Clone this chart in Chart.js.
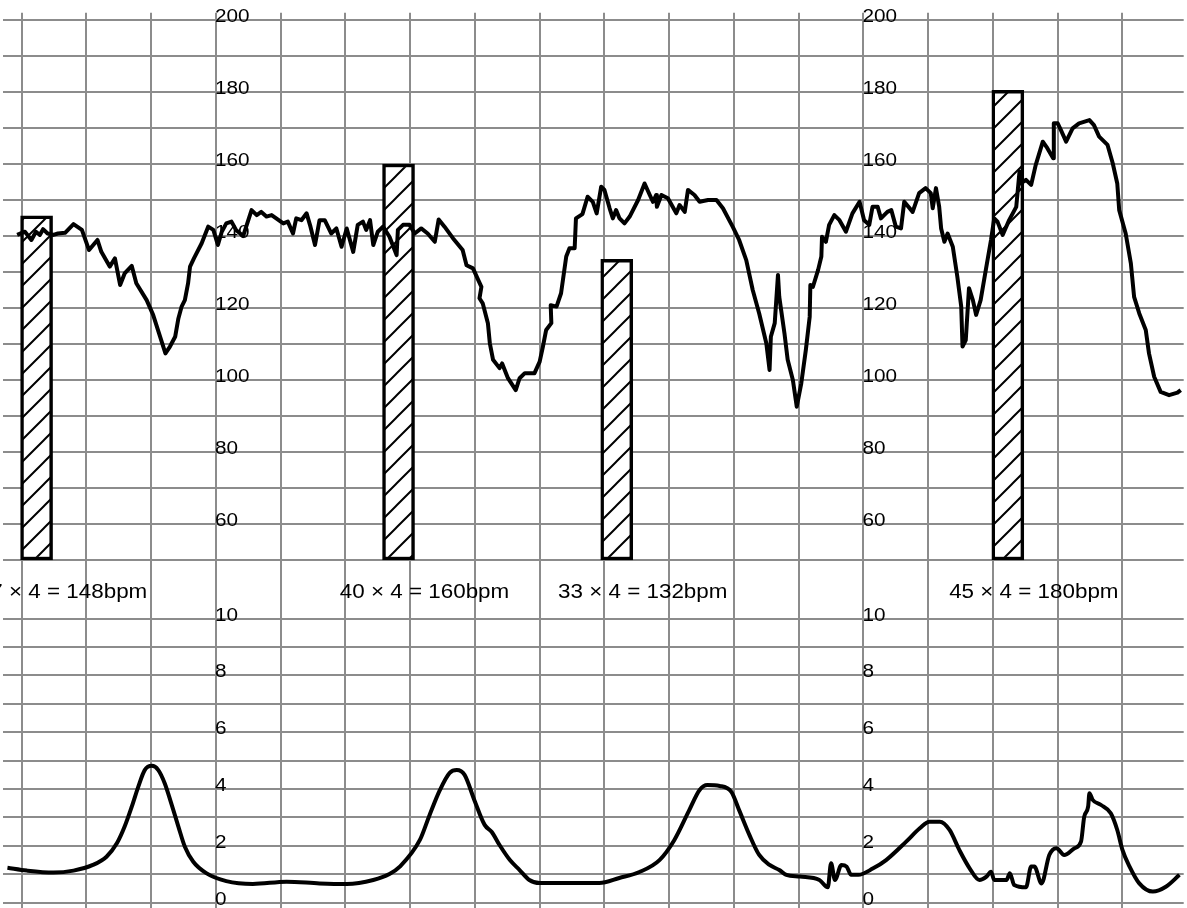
<!DOCTYPE html>
<html>
<head>
<meta charset="utf-8">
<script src="https://cdn.jsdelivr.net/npm/chart.js@4.4.1/dist/chart.umd.min.js"></script>
<style>
  html, body { margin: 0; padding: 0; background: #fff; }
  canvas { display: block; }
</style>
</head>
<body>
<canvas id="ctg" width="1187" height="908"></canvas>
<script>
// time is counted in grid squares (one vertical line per unit)
// fetal heart rate trace, bpm
const fhrTime = [-0.07, 0.05, 0.15, 0.22, 0.28, 0.33, 0.40, 0.49, 0.56, 0.67, 0.80, 0.93, 1.04, 1.17, 1.23, 1.36, 1.44, 1.52, 1.59, 1.70,
  1.77, 1.93, 2.03, 2.12, 2.22, 2.29, 2.37, 2.42, 2.47, 2.52, 2.57, 2.60, 2.66, 2.78, 2.88, 2.96, 3.03, 3.09, 3.16, 3.24,
  3.31, 3.42, 3.55, 3.63, 3.70, 3.78, 3.86, 4.04, 4.11, 4.19, 4.24, 4.32, 4.40, 4.46, 4.53, 4.60, 4.68, 4.78, 4.86, 4.94,
  5.02, 5.12, 5.19, 5.27, 5.32, 5.38, 5.43, 5.50, 5.58, 5.68, 5.79, 5.81, 5.89, 5.99, 6.07, 6.17, 6.27, 6.38, 6.44, 6.53,
  6.66, 6.81, 6.87, 6.97, 7.05, 7.10, 7.07, 7.12, 7.20, 7.23, 7.28, 7.38, 7.42, 7.51, 7.63, 7.69, 7.77, 7.92, 8.00, 8.05,
  8.10, 8.18, 8.17, 8.26, 8.33, 8.41, 8.46, 8.54, 8.56, 8.66, 8.74, 8.82, 8.88, 8.95, 9.00, 9.08, 9.13, 9.18, 9.23, 9.31,
  9.39, 9.52, 9.62, 9.70, 9.75, 9.80, 9.81, 9.88, 9.98, 10.11, 10.16, 10.24, 10.29, 10.39, 10.47, 10.60, 10.73, 10.83, 10.98, 11.08,
  11.19, 11.29, 11.39, 11.50, 11.55, 11.57, 11.63, 11.68, 11.70, 11.78, 11.83, 11.91, 11.97, 12.04, 12.11, 12.17, 12.18, 12.22, 12.30, 12.35,
  12.36, 12.42, 12.47, 12.55, 12.63, 12.73, 12.83, 12.94, 13.01, 13.09, 13.14, 13.22, 13.27, 13.37, 13.43, 13.50, 13.58, 13.63, 13.76, 13.86,
  13.96, 14.04, 14.07, 14.12, 14.17, 14.20, 14.25, 14.30, 14.38, 14.45, 14.51, 14.53, 14.58, 14.63, 14.69, 14.74, 14.81, 14.89, 14.97, 15.02,
  15.07, 15.15, 15.25, 15.36, 15.41, 15.43, 15.51, 15.59, 15.66, 15.77, 15.84, 15.93, 15.94, 16.00, 16.05, 16.13, 16.23, 16.33, 16.49, 16.56,
  16.64, 16.77, 16.85, 16.92, 16.95, 17.05, 17.13, 17.18, 17.26, 17.36, 17.41, 17.49, 17.59, 17.72, 17.85, 17.90];
const fhrBpm = [140.3, 141.2, 138.9, 141.2, 140.3, 141.9, 140.7, 140.3, 140.7, 140.9, 143.3, 141.7, 136.1, 138.9, 135.6, 131.5, 133.8, 126.4, 129.6, 131.7,
  126.9, 122.2, 118.1, 113.0, 107.4, 109.3, 112.0, 117.1, 120.4, 122.2, 126.9, 131.5, 133.8, 138.0, 142.6, 141.7, 137.5, 141.2, 143.5, 144.0,
  141.7, 140.0, 147.2, 145.8, 146.7, 145.4, 145.8, 143.5, 144.0, 140.7, 144.9, 144.4, 146.3, 142.6, 137.5, 144.4, 144.4, 140.7, 142.1, 137.0,
  142.1, 135.6, 143.1, 144.0, 141.7, 144.4, 137.5, 141.2, 142.6, 139.8, 134.7, 141.7, 143.1, 143.1, 140.7, 142.1, 140.7, 138.4, 144.6, 142.6,
  139.4, 136.1, 131.9, 131.0, 127.8, 125.9, 122.7, 121.3, 115.8, 110.2, 105.6, 103.3, 104.6, 100.5, 97.2, 100.5, 101.9, 101.9, 105.1, 109.3,
  113.9, 115.8, 120.8, 120.4, 124.1, 134.3, 136.6, 136.6, 144.9, 146.1, 150.9, 149.5, 146.3, 153.7, 152.8, 147.7, 144.9, 147.2, 145.0, 143.5,
  145.4, 150.0, 154.6, 151.4, 149.5, 151.4, 148.1, 151.4, 150.5, 146.3, 148.6, 146.7, 152.8, 151.4, 149.5, 150.0, 150.0, 147.7, 142.6, 138.9,
  133.3, 125.0, 118.5, 110.2, 102.8, 112.0, 115.8, 129.2, 123.1, 113.0, 105.6, 100.0, 92.6, 99.1, 108.3, 117.6, 126.4, 125.9, 130.6, 134.3,
  139.8, 138.4, 143.1, 145.8, 144.4, 141.2, 146.3, 149.5, 144.4, 143.1, 148.1, 148.1, 144.9, 146.7, 147.2, 142.6, 142.1, 149.5, 146.7, 151.9,
  153.3, 151.9, 147.7, 153.3, 148.1, 142.1, 138.4, 140.7, 137.0, 128.7, 120.4, 109.3, 111.1, 125.5, 122.2, 118.1, 122.2, 130.6, 138.9, 144.9,
  144.0, 140.3, 144.4, 148.1, 157.9, 154.6, 155.6, 154.2, 159.7, 166.2, 164.4, 161.6, 171.3, 171.3, 169.4, 166.2, 169.9, 171.3, 172.2, 170.8,
  167.6, 165.3, 160.2, 154.6, 147.2, 140.7, 132.4, 123.1, 118.5, 113.9, 107.4, 100.9, 96.7, 95.8, 96.5, 97.2];

// uterine activity trace
const ucTime = [-0.22, 0.08, 0.49, 0.80, 1.10, 1.31, 1.47, 1.59, 1.70, 1.80, 1.90, 2.01, 2.11, 2.21, 2.31, 2.42, 2.52, 2.65, 2.85, 3.16,
  3.57, 4.09, 4.60, 5.02, 5.43, 5.68, 5.84, 6.15, 6.30, 6.46, 6.61, 6.72, 6.84, 6.99, 7.15, 7.26, 7.38, 7.54, 7.69, 7.84,
  8.00, 8.92, 9.23, 9.54, 9.85, 10.08, 10.31, 10.47, 10.59, 10.78, 10.96, 11.08, 11.24, 11.39, 11.55, 11.70, 11.81, 12.02, 12.32, 12.45,
  12.50, 12.56, 12.66, 12.74, 12.81, 12.92, 13.15, 13.35, 13.66, 13.87, 14.02, 14.18, 14.33, 14.48, 14.64, 14.79, 14.90, 14.97, 15.02, 15.21,
  15.26, 15.33, 15.51, 15.59, 15.64, 15.75, 15.87, 15.98, 16.10, 16.26, 16.36, 16.41, 16.47, 16.49, 16.54, 16.67, 16.82, 16.92, 17.00, 17.11,
  17.26, 17.47, 17.67, 17.88];
const ucValue = [1.23, 1.13, 1.06, 1.13, 1.33, 1.62, 2.09, 2.68, 3.38, 4.08, 4.67, 4.82, 4.67, 4.20, 3.50, 2.68, 1.97, 1.44, 1.04, 0.76,
  0.66, 0.74, 0.68, 0.66, 0.80, 1.01, 1.27, 2.21, 3.09, 3.97, 4.57, 4.67, 4.50, 3.62, 2.74, 2.49, 2.03, 1.50, 1.15, 0.80,
  0.69, 0.69, 0.87, 1.08, 1.50, 2.21, 3.26, 3.97, 4.14, 4.11, 3.90, 3.26, 2.38, 1.68, 1.33, 1.15, 0.98, 0.92, 0.80, 0.54,
  1.39, 0.80, 1.33, 1.27, 0.98, 0.98, 1.21, 1.50, 2.15, 2.62, 2.85, 2.85, 2.56, 1.86, 1.21, 0.80, 0.92, 1.09, 0.80, 0.80,
  1.04, 0.62, 0.54, 1.27, 1.27, 0.68, 1.68, 1.92, 1.68, 1.92, 2.15, 3.03, 3.38, 3.85, 3.62, 3.44, 3.15, 2.56, 1.86, 1.27,
  0.68, 0.39, 0.56, 0.98];

// beat counts marked as hatched bars
const barTime = [0.23, 5.82, 9.19, 15.23];
const barBpm = [145.6, 160, 133.5, 180.5];
const barBase = 50;
const barLabels = ['37 \u00d7 4 = 148bpm', '40 \u00d7 4 = 160bpm', '33 \u00d7 4 = 132bpm', '45 \u00d7 4 = 180bpm'];

// printed scale numbers and the grid columns they sit on
const bpmTicks = [60, 80, 100, 120, 140, 160, 180, 200];
const ucTicks = [0, 2, 4, 6, 8, 10];
const tickColumns = [3, 13];

const gridColor = '#8c8c8c';

// hatch fill for the bars
const tile = document.createElement('canvas');
tile.width = 22; tile.height = 22;
const tc = tile.getContext('2d');
tc.fillStyle = '#fff';
tc.fillRect(0, 0, 22, 22);
tc.strokeStyle = '#000';
tc.lineWidth = 2;
tc.beginPath();
tc.moveTo(0, 22); tc.lineTo(22, 0);
tc.moveTo(-11, 11); tc.lineTo(11, -11);
tc.moveTo(11, 33); tc.lineTo(33, 11);
tc.stroke();
const hatch = tc.createPattern(tile, 'repeat');

// the printed text is a little wider than plain Arial, so stretch it
function wideText(ctx, txt, x, y, sx) {
  ctx.save();
  ctx.translate(x, y);
  ctx.scale(sx, 1);
  ctx.fillText(txt, 0, 0);
  ctx.restore();
}

// scale numbers inside the grid + bar captions
const panelText = {
  id: 'panelText',
  beforeDatasetsDraw(chart) {
    const { ctx, scales: { x, yTop, yBot } } = chart;
    ctx.save();
    ctx.fillStyle = '#000';
    ctx.textBaseline = 'alphabetic';
    ctx.textAlign = 'left';
    ctx.font = '18px "Liberation Sans", Arial, sans-serif';
    tickColumns.forEach(col => {
      const px = x.getPixelForValue(col) - 1;
      bpmTicks.forEach(v => wideText(ctx, String(v), px, yTop.getPixelForValue(v) + 2, 1.15));
      ucTicks.forEach(v => wideText(ctx, String(v), px, yBot.getPixelForValue(v) + 2, 1.15));
    });
    ctx.font = '20px "Liberation Sans", Arial, sans-serif';
    ctx.textAlign = 'center';
    const base = yTop.getPixelForValue(barBase);
    barLabels.forEach((txt, i) => {
      wideText(ctx, txt, x.getPixelForValue(barTime[i]) + 26, base + 38, 1.12);
    });
    ctx.restore();
  }
};

const gridOpts = { color: gridColor, lineWidth: 2, drawTicks: false };

new Chart(document.getElementById('ctg'), {
  type: 'line',
  data: {
    datasets: [
      {
        label: 'FHR',
        data: fhrTime.map((t, i) => ({ x: t, y: fhrBpm[i] })),
        yAxisID: 'yTop',
        borderColor: '#000',
        borderWidth: 4,
        pointRadius: 0,
        tension: 0,
        borderJoinStyle: 'round',
        order: 0
      },
      {
        label: 'UC',
        data: ucTime.map((t, i) => ({ x: t, y: ucValue[i] })),
        yAxisID: 'yBot',
        borderColor: '#000',
        borderWidth: 4,
        pointRadius: 0,
        cubicInterpolationMode: 'monotone',
        order: 0
      },
      {
        type: 'bar',
        label: 'count',
        data: barTime.map((t, i) => ({ x: t, y: [barBase, barBpm[i]] })),
        yAxisID: 'yTop',
        backgroundColor: hatch,
        borderColor: '#000',
        borderWidth: 3.5,
        borderSkipped: false,
        barThickness: 32,
        order: 1
      }
    ]
  },
  options: {
    responsive: false,
    animation: false,
    layout: { padding: { top: 12.7, left: 3.3, right: 3.3, bottom: 0 } },
    plugins: { legend: { display: false }, tooltip: { enabled: false } },
    scales: {
      x: {
        type: 'linear', min: -0.284, max: 17.946, offset: false,
        ticks: { display: false, stepSize: 1, includeBounds: false },
        grid: { ...gridOpts, offset: false },
        border: { display: false }
      },
      yTop: {
        type: 'linear', position: 'left', stack: 'ctg', stackWeight: 580.8, weight: 2,
        min: 40.7, max: 202.03,
        ticks: { display: false, stepSize: 10, includeBounds: false },
        grid: gridOpts,
        border: { display: false }
      },
      yBot: {
        type: 'linear', position: 'left', stack: 'ctg', stackWeight: 314.5, weight: 1,
        min: -0.187, max: 10.887,
        ticks: { display: false, stepSize: 1, includeBounds: false },
        grid: gridOpts,
        border: { display: false }
      }
    }
  },
  plugins: [panelText]
});
</script>
</body>
</html>
